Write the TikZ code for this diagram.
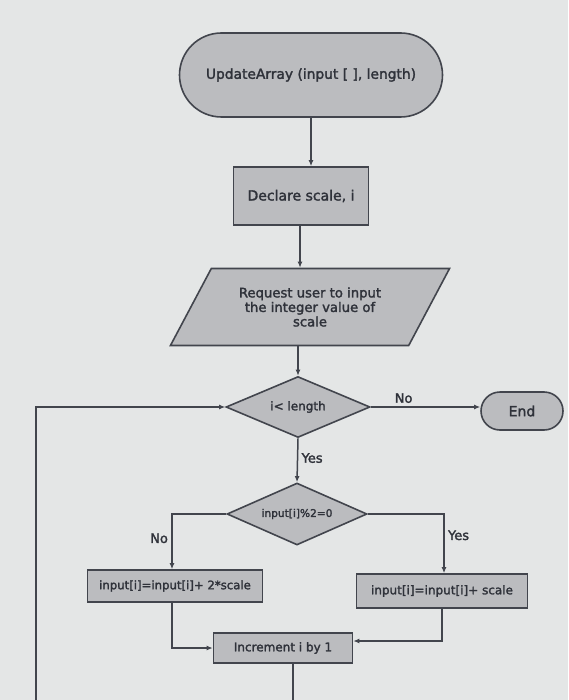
\documentclass[tikz,border=0pt]{standalone}
\usepackage{fontspec}
\setmainfont{DejaVu Sans}[UprightFeatures={FakeBold=2}]
\usetikzlibrary{shapes.geometric,shapes.misc,arrows.meta}
\definecolor{bg}{HTML}{E4E6E6}
\definecolor{shp}{HTML}{BBBCBF}
\definecolor{ln}{HTML}{42454D}
\definecolor{tx}{HTML}{2F323A}
\tikzset{
  base/.style={draw=ln, fill=shp, line width=1.6pt, text=tx, align=center, inner sep=2pt},
  term/.style={base, rounded rectangle},
  procbox/.style={base, rectangle},
  iobox/.style={base, trapezium, trapezium left angle=55, trapezium right angle=125, trapezium stretches=true},
  decide/.style={base, diamond, aspect=2.3, inner sep=0pt},
  conn/.style={draw=ln, line width=1.5pt, -{Latex[length=6pt,width=5pt]}},
  lbl/.style={text=tx, font=\fontsize{13}{15}\selectfont}
}
\begin{document}
\begin{tikzpicture}[x=1pt,y=-1pt]
\fill[bg] (0,0) rectangle (568,700);
\useasboundingbox (0,0) rectangle (568,700);
\node[term, minimum width=267pt, minimum height=84pt, font=\fontsize{13.8}{16}\selectfont] (start) at (311,75) {UpdateArray (input [ ], length)};
\node[procbox, minimum width=135pt, minimum height=58pt, font=\fontsize{14}{16}\selectfont] (decl) at (301,196) {Declare scale, i};
\node[iobox, minimum width=280pt, minimum height=77pt, font=\fontsize{13.2}{14.5}\selectfont] (req) at (310,307) {Request user to input\\the integer value of\\scale};
\node[decide, minimum width=144pt, minimum height=61pt, font=\fontsize{12}{14}\selectfont] (d1) at (298,407) {i< length};
\node[term, minimum width=86pt, minimum height=38pt, font=\fontsize{14}{16}\selectfont] (end) at (522,411) {End};
\node[decide, minimum width=140pt, minimum height=62pt, font=\fontsize{10.6}{12}\selectfont] (d2) at (297,514) {input[i]\%2=0};
\node[procbox, minimum width=175pt, minimum height=32pt, font=\fontsize{11.7}{13}\selectfont] (left) at (175,586) {input[i]=input[i]+ 2*scale};
\node[procbox, minimum width=171pt, minimum height=34pt, font=\fontsize{12}{14}\selectfont] (right) at (442,591) {input[i]=input[i]+ scale};
\node[procbox, minimum width=139pt, minimum height=30pt, font=\fontsize{12}{14}\selectfont] (inc) at (283,648) {Increment i by 1};
\coordinate (lb) at (293,715);
\coordinate (lc) at (36,715);
\draw[conn] (start.south -| 311,0) -- (decl.north -| 311,0);
\draw[conn] (decl.south -| 300,0) -- (req.north -| 300,0);
\draw[conn] (req.south -| 298,0) -- (d1.north);
\draw[conn] (d1.east) -- node[lbl, above, pos=0.3] {No} (d1.east -| end.west);
\draw[conn] (d1.south) -- node[lbl, right, pos=0.45] {Yes} (d2.north);
\draw[conn] (d2.west) -| node[lbl, left, pos=0.72] {No} (left.north -| 172,0);
\draw[conn] (d2.east) -| node[lbl, right, pos=0.68] {Yes} (right.north -| 444,0);
\draw[conn] (left.south -| 172,0) |- (inc.west);
\draw[conn] (right.south -| 442,0) |- ([yshift=7pt]inc.east);
\draw[conn] (inc.south -| 293,0) -- (lb) -- (lc) |- (d1.west);
\end{tikzpicture}
\end{document}
